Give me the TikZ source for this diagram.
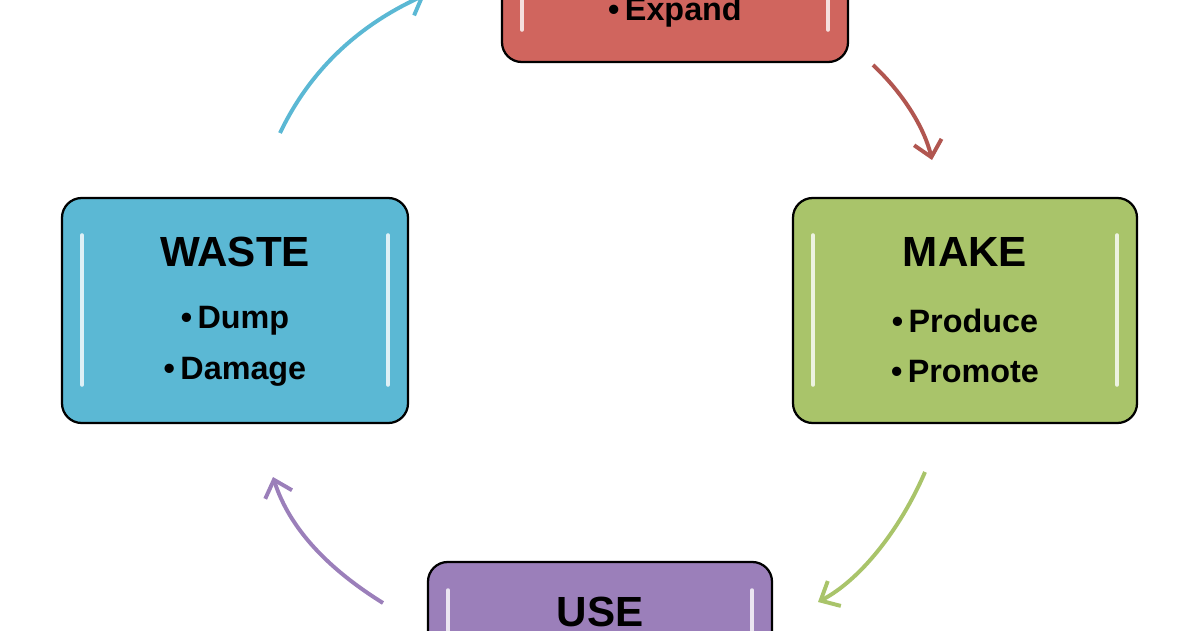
\documentclass[tikz,border=0pt]{standalone}
\usepackage{fontspec}
\setmainfont{Liberation Sans}
\usetikzlibrary{arrows.meta}
\definecolor{cred}{HTML}{D0655E}
\definecolor{cgreen}{HTML}{A9C46A}
\definecolor{cblue}{HTML}{5BB8D4}
\definecolor{cpurple}{HTML}{9B7FBA}
\begin{document}
\begin{tikzpicture}[x=0.025cm,y=-0.025cm,
  box/.style={draw=black,line width=1.6pt,rounded corners=14pt,inner sep=0pt},
  ttl/.style={font=\fontsize{30}{34}\selectfont\bfseries},
  bul/.style={font=\fontsize{23}{36}\selectfont\bfseries,align=center},
  arr/.style={line width=2.8pt,-{Straight Barb[length=11pt,width=20pt,line width=2.8pt]}},
  shine/.style={white,line width=2.5pt,opacity=0.8,line cap=round}]
\useasboundingbox (0,0) rectangle (1200,630);
\clip (0,0) rectangle (1200,630);
% boxes
\draw[box,fill=cred] (502,-120) rectangle (848,62);
\draw[box,fill=cgreen] (793,198) rectangle (1137,423);
\draw[box,fill=cblue] (62,198) rectangle (408,423);
\draw[box,fill=cpurple] (428,562) rectangle (772,760);
% shine
\foreach \x/\a/\b in {82/235/385,388/235/385,813/235/385,1117/235/385,522/-80/30,828/-80/30,448/590/700,752/590/700}
  \draw[shine] (\x,\a) -- (\x,\b);
% texts
\node[bul] (te) at (675,12) {•\,Expand};
\node[ttl] (mt) at (965,252) {MAKE};
\node[bul] (mb) at (965,346) {•\,Produce\\•\,Promote};
\node[ttl] (wt) at (235,252) {WASTE};
\node[bul] (wb) at (235,346) {•\,Dump\\•\,Damage};
\node[ttl] (ut) at (600,612) {USE};
% arrows
\coordinate (r1) at (873,65); \coordinate (r2) at (932,160);
\coordinate (g1) at (925,472); \coordinate (g2) at (818,602);
\coordinate (p1) at (383,603); \coordinate (p2) at (273,477);
\coordinate (b1) at (280,133); \coordinate (b2) at (425,-5);
\draw[arr,cred!85!black] (r1) .. controls (905,95) and (925,130) .. (r2);
\draw[arr,cgreen] (g1) .. controls (900,530) and (860,580) .. (g2);
\draw[arr,cpurple] (p1) .. controls (330,570) and (290,530) .. (p2);
\draw[arr,cblue] (b1) .. controls (315,60) and (370,20) .. (b2);
\end{tikzpicture}
\end{document}
